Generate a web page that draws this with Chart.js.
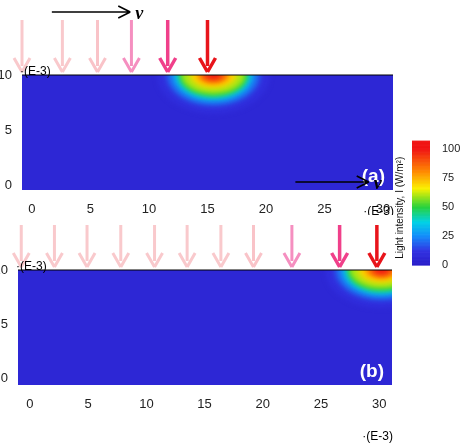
<!DOCTYPE html>
<html><head><meta charset="utf-8">
<script src="https://cdn.jsdelivr.net/npm/chart.js@4/dist/chart.umd.min.js"></script>
<style>body{margin:0;background:#fff;width:474px;height:448px;position:relative;overflow:hidden;font-family:Arial,"Liberation Sans",sans-serif}
.c{position:absolute}</style></head><body>
<div class="c" style="left:0;top:0"><canvas id="ca" width="474" height="215"></canvas></div>
<div class="c" style="left:0;top:165px"><canvas id="cb" width="474" height="283"></canvas></div>
<div class="c" style="left:380px;top:130px"><canvas id="cc" width="94" height="150"></canvas></div>
<script>
// data
const xTicks = [0,5,10,15,20,25,30];
const yTicks = [0,5,10];
const barTicks = [0,25,50,75,100];
const backgroundIntensity = 6;
const spotLevels = [10,20,30,40,50,60,70,80,90,100];
const spotRx = [4.8,4.0,3.5,3.1,2.9,2.7,2.0,1.4,1.0,0.6];   // x-units
const spotRy = [3.5,2.8,2.4,2.1,1.9,1.7,1.2,0.8,0.6,0.3];   // y-units
const spotA = {x:15.5, y:10};
const spotB = {x:30.2, y:10};
const arrowsA = [-0.85,2.6,5.6,8.5,11.6,15.0];
const arrowsAColor = ['#f9c9cc','#f9c9cc','#f9c3c8','#f58fc0','#f0408a','#e8141b'];
const arrowsB = [-0.75,2.1,4.9,7.8,10.7,13.5,16.4,19.2,22.5,26.6,29.8];
const arrowsBColor = ['#f9c9cc','#f9c9cc','#f9c9cc','#f9c9cc','#f9c9cc','#f9c9cc','#f9c9cc','#f9c3c8','#f58fc0','#f0408a','#e8141b'];
const velA = [1.7, 8.4];
const velB = [22.8, 29.1];

const stops=[[0,[40,28,200]],[12,[50,50,225]],[25,[20,140,250]],[37,[0,210,230]],[50,[40,210,60]],[60,[170,230,20]],[66,[250,240,0]],[80,[255,140,0]],[100,[240,20,20]]];
function cmap(v){for(let i=1;i<stops.length;i++){if(v<=stops[i][0]){const a=stops[i-1],b=stops[i],t=(v-a[0])/(b[0]-a[0]);return 'rgb('+a[1].map((c,k)=>Math.round(c+(b[1][k]-c)*t)).join(',')+')';}}return 'rgb(240,20,20)';}

function arrow(ctx,x,y0,y1,col,w){ctx.save();ctx.strokeStyle=col;ctx.fillStyle=col;ctx.lineWidth=w;ctx.beginPath();ctx.moveTo(x,y0);ctx.lineTo(x,y1-6);ctx.stroke();
ctx.beginPath();ctx.moveTo(x,y1);ctx.lineTo(x-8,y1-14);ctx.moveTo(x,y1);ctx.lineTo(x+8,y1-14);ctx.lineWidth=w;ctx.stroke();ctx.restore();}

function heatPlugin(spot,arrows,cols,vel,label,arrTop,arrBot,velY,e3top,e3bot){return {id:'h',beforeDatasetsDraw(ch){
 const {ctx,chartArea:a,scales:{x,y}}=ch;ctx.save();ctx.beginPath();ctx.rect(a.left,a.top,a.right-a.left,a.bottom-a.top);ctx.clip();
 ctx.fillStyle=cmap(backgroundIntensity);ctx.fillRect(a.left,a.top,a.right-a.left,a.bottom-a.top);
 ctx.filter='blur(2.5px)';
 for(let i=0;i<spotLevels.length;i++){const cx=x.getPixelForValue(spot.x),cy=y.getPixelForValue(spot.y);
  const rx=x.getPixelForValue(spot.x+spotRx[i])-cx,ry=y.getPixelForValue(spot.y-spotRy[i])-cy;
  ctx.fillStyle=cmap(spotLevels[i]);ctx.beginPath();ctx.ellipse(cx,cy,rx,ry,0,0,Math.PI*2);ctx.fill();}
 ctx.filter='none';
 ctx.restore();
 ctx.save();ctx.strokeStyle='#000';ctx.lineWidth=1;ctx.beginPath();ctx.moveTo(a.left,a.top);ctx.lineTo(a.right,a.top);ctx.stroke();
 arrows.forEach((v,i)=>arrow(ctx,x.getPixelForValue(v),arrTop,arrBot,cols[i],i>=arrows.length-2?3.5:3));
 const vx0=x.getPixelForValue(vel[0]),vx1=x.getPixelForValue(vel[1]);
 ctx.strokeStyle='#000';ctx.lineWidth=1.6;ctx.beginPath();ctx.moveTo(vx0,velY);ctx.lineTo(vx1,velY);ctx.moveTo(vx1,velY);ctx.lineTo(vx1-12,velY-6);ctx.moveTo(vx1,velY);ctx.lineTo(vx1-12,velY+6);ctx.stroke();
 ctx.fillStyle='#000';ctx.font='italic bold 18px "Liberation Serif",serif';ctx.textBaseline='middle';ctx.fillText('v',vx1+5,velY+2);
 ctx.font='12px Arial,"Liberation Sans"';ctx.fillText('·(E-3)',a.left-2,e3top);ctx.textAlign='right';ctx.fillText('·(E-3)',a.right+1,e3bot);
 ctx.fillStyle='#fff';ctx.font='bold 19px Arial,"Liberation Sans"';ctx.textAlign='right';ctx.textBaseline='bottom';ctx.fillText(label,a.right-8,a.bottom-4);
 ctx.restore();}};}

function panel(id,xmin,xmax,ymin,pad,spot,arrows,cols,vel,label,arrTop,arrBot,velY,e3top,e3bot,ylw){
 new Chart(document.getElementById(id),{type:'scatter',data:{datasets:[{data:[]}]},
 options:{responsive:false,animation:false,layout:{padding:pad},plugins:{legend:{display:false},tooltip:{enabled:false}},
 scales:{x:{type:'linear',min:xmin,max:xmax,grid:{display:false},border:{display:false},afterBuildTicks:s=>{s.ticks=xTicks.map(v=>({value:v}))},
   ticks:{color:'#222',font:{size:13,family:'Arial'},padding:4},afterFit:s=>{s.height=25}},
  y:{min:ymin,max:10,grid:{display:false},border:{display:false},afterBuildTicks:s=>{s.ticks=yTicks.map(v=>({value:v}))},
   ticks:{color:'#222',font:{size:13,family:'Arial'},padding:2},afterFit:s=>{s.width=ylw}}}},
 plugins:[heatPlugin(spot,arrows,cols,vel,label,arrTop,arrBot,velY,e3top,e3bot)]});}

panel('ca',-0.85,30.85,-0.45,{top:75,right:81,bottom:0,left:0},spotA,arrowsA,arrowsAColor,velA,'(a)',20,72,12,72,212,22);
panel('cb',-1.03,31.1,-0.65,{top:105,right:82,bottom:38,left:0},spotB,arrowsB,arrowsBColor,velB,'(b)',60,102,17,102,272,18);

new Chart(document.getElementById('cc'),{type:'scatter',data:{datasets:[{data:[]}]},
 options:{responsive:false,animation:false,layout:{padding:{top:10,bottom:15,left:32,right:0}},plugins:{legend:{display:false},tooltip:{enabled:false}},
 scales:{x:{display:false,min:0,max:1},y:{position:'right',min:0,max:107,grid:{display:false},border:{display:false},
  afterBuildTicks:s=>{s.ticks=barTicks.map(v=>({value:v}))},ticks:{color:'#222',font:{size:11,family:'Arial'},padding:4},afterFit:s=>{s.width=44}}}},
 plugins:[{id:'cb',beforeDatasetsDraw(ch){const {ctx,chartArea:a,scales:{y}}=ch;
  for(let v=0;v<107;v+=0.5){ctx.fillStyle=cmap(Math.min(v,100));const p0=y.getPixelForValue(v),p1=y.getPixelForValue(v+0.5);ctx.fillRect(a.left,p1,a.right-a.left,p0-p1+0.6);}
  ctx.save();ctx.translate(a.left-12,(a.top+a.bottom)/2+5);ctx.rotate(-Math.PI/2);ctx.fillStyle='#111';ctx.textAlign='center';ctx.textBaseline='middle';
  ctx.font='10px Arial';ctx.fillText('Light intensity, I (W/m²)',0,0);ctx.restore();}}]});
</script></body></html>
